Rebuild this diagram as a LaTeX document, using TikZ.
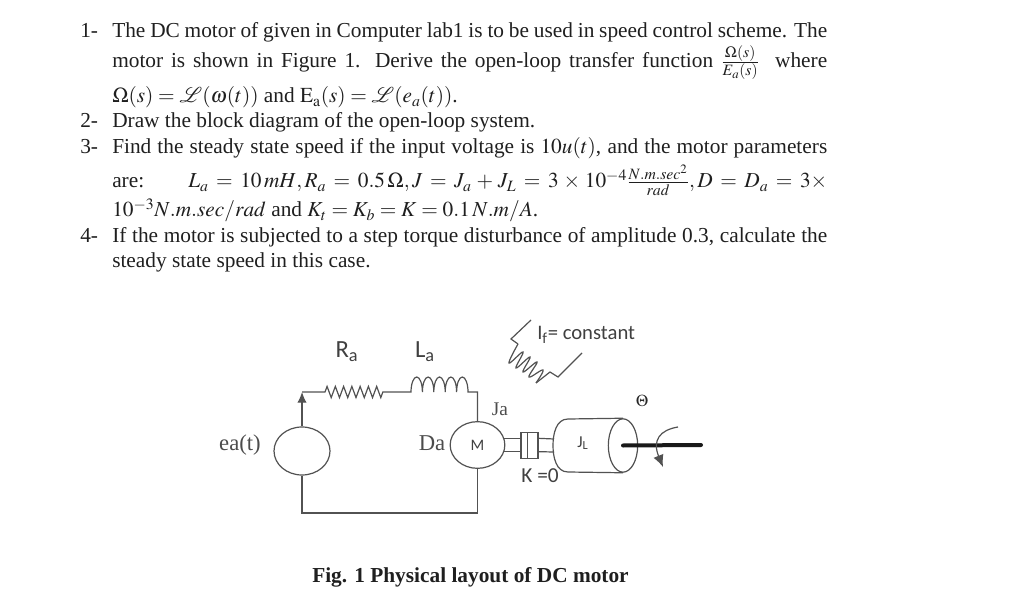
\documentclass[tikz,border=0pt]{standalone}
\usepackage{amsmath}
\usepackage{amssymb}
\usepackage{mathptmx}
\usepackage{fontspec}
\setmainfont{Liberation Serif}
\newfontfamily\labelfont{Carlito}
\usepackage{tikz}
\usetikzlibrary{positioning, arrows.meta, shapes.geometric, decorations.pathmorphing}

% stretches one printed line to a width given in picture units
\newcommand{\fitline}[2]{\makebox[#1\dimexpr 0.75pt\relax][s]{#2}}

\begin{document}
\begin{tikzpicture}[
        x=0.75pt, y=-0.75pt,
        textline/.style={anchor=base west, inner sep=0, font=\fontsize{16}{18}\selectfont, text=black!88},
        numlabel/.style={textline},
        caption/.style={textline, font=\fontsize{16}{18}\selectfont\bfseries},
        wire/.style={draw=black!68, line width=0.9pt},
        serifl/.style={inner sep=0, text=black!70, font=\fontsize{17}{19}\selectfont},
        sansl/.style={inner sep=0, text=black!75, font=\labelfont\fontsize{18.5}{20}\selectfont},
        smalll/.style={inner sep=0, text=black!75, font=\labelfont\fontsize{12.5}{15}\selectfont},
        round/.style={ellipse, wire, inner sep=0},
        resistor/.style={decorate, decoration={zigzag, amplitude=4.2pt, segment length=6.2pt}},
        coupler/.style={wire, inner sep=0, minimum width=12.75pt, minimum height=19pt}
    ]
    \useasboundingbox (0,0) rectangle (1009,598);

    % Text lines
    \foreach \n/\yy in {1/38, 2/128, 3/153.5, 4/243}
        \node[numlabel] (num\n) at (80,\yy) {\n-};

    \node[textline] (l1) at (112,38) {\fitline{715}{The DC motor of given in Computer lab1 is to be used in speed control scheme. The}};
    \node[textline] (l2) at (112,68) {\fitline{715}{motor is shown in Figure 1. Derive the open-loop transfer function $\frac{\Omega(s)}{E_a(s)}$\hspace{6pt} where}};
    \node[textline] (l3) at (112,103) {$\Omega(s) = \mathcal{L}(\omega(t))$ and $\mathrm{E_a}(s) = \mathcal{L}(e_a(t))$.};
    \node[textline] (l4) at (112,128) {Draw the block diagram of the open-loop system.};
    \node[textline] (l5) at (112,153.5) {\fitline{715}{Find the steady state speed if the input voltage is $10u(t)$, and the motor parameters}};
    \node[textline] (l6a) at (112,188) {are:};
    \node[textline] (l6b) at (188,188) {\fitline{639}{$L_a = 10\,mH, R_a = 0.5\,\Omega, J = J_a + J_L = 3 \times 10^{-4}\frac{N.m.sec^2}{rad}, D = D_a = 3 \times$}};
    \node[textline] (l7) at (112,217) {$10^{-3}N.m.sec/rad$ and $K_t = K_b = K = 0.1\,N.m/A$.};
    \node[textline] (l8) at (112,243) {\fitline{715}{If the motor is subjected to a step torque disturbance of amplitude 0.3, calculate the}};
    \node[textline] (l9) at (112,268) {steady state speed in this case.};
    \node[caption] (cap) at (312,582) {Fig. 1 Physical layout of DC motor};

    % Nodes
    \node[round, minimum width=42pt, minimum height=36pt] (source) at (302,451) {};
    \node[round, minimum width=41pt, minimum height=35pt, font=\labelfont\fontsize{12}{14}\selectfont, text=black!75] (motor) at (477.5,445) {M};
    \node[coupler] (coupling) at (529.5,445.5) {};
    \node[round, minimum width=22pt, minimum height=40pt] (loadend) at (623,445.5) {};

    \node[serifl] (ealabel) at (240,445) {ea(t)};
    \node[sansl] (ralabel) at (347,352) {R\textsubscript{a}};
    \node[sansl] (lalabel) at (425,352) {L\textsubscript{a}};
    \node[serifl] (dalabel) at (432,443) {Da};
    \node[serifl, font=\fontsize{14.5}{17}\selectfont] (jalabel) at (500,409) {Ja};
    \node[smalll] (jllabel) at (583,443) {J\textsubscript{L}};
    \node[smalll, font=\labelfont\fontsize{16}{18}\selectfont] (klabel) at (540,476) {K =0};
    \node[smalll, font=\labelfont\fontsize{15.5}{17}\selectfont, anchor=west] (iflabel) at (537,335) {I\textsubscript{f}= constant};
    \node[smalll, text=black!85] (thetalabel) at (642,401) {$\Theta$};

    \coordinate (corner) at (302,392);
    \coordinate (ra1) at (325,392);
    \coordinate (ra2) at (383,392);
    \coordinate (la1) at (411,392);
    \coordinate (la2) at (477.5,392);
    \coordinate (shaftend) at (701,445);

    % Armature circuit
    \draw[wire, -{Latex[length=8pt,width=7pt]}] (source.north) -- (corner);
    \draw[wire] (corner) -- (ra1) decorate[resistor] {-- (ra2)} -- (la1)
        \foreach \i in {1,...,5} {arc[start angle=180, end angle=360, x radius=5.7, y radius=15]}
        -- (la2) -- (motor.north);
    \draw[wire] (source.south) |- (477.5,513) -- (motor.south);

    % Field winding
    \coordinate (f1) at (531,320);
    \coordinate (f2) at (511,339);
    \coordinate (f3) at (518,344);
    \coordinate (f4) at (536,383);
    \coordinate (f5) at (550,372);
    \coordinate (f6) at (558,377);
    \coordinate (f7) at (582,353);
    \draw[wire] (f1) -- (f2) -- (f3);
    \draw[wire] plot[smooth, tension=0.7] coordinates {(f3) (509,363) (523,352) (516,368) (530,357)
        (523,372) (537,362) (529,377) (543,370) (536,383)};
    \draw[wire] (f4) -- (f5) -- (f6) -- (f7);

    % Shaft and load
    \draw[wire] (motor.14) -- (motor.14 -| coupling.west);
    \draw[wire] (motor.-14) -- (motor.-14 -| coupling.west);
    \draw[wire] ([xshift=5.25pt]coupling.north west) -- ([xshift=5.25pt]coupling.south west);
    \draw[wire] (motor.14 -| coupling.east) -- (554,439);
    \draw[wire] (motor.-14 -| coupling.east) -- (554,452);
    \draw[wire] (loadend.north) -- (568,419) .. controls (556,419) and (553,434) .. (553,445.5)
        .. controls (553,457) and (556,472) .. (568,472) -- (loadend.south);
    \draw[line width=3pt, line cap=round, black!90] (loadend.center) -- (shaftend);
    \draw[wire, -{Latex[length=9pt,width=8pt]}] (678,427) .. controls (660,430) and (652,440) .. (663,467);

\end{tikzpicture}
\end{document}
